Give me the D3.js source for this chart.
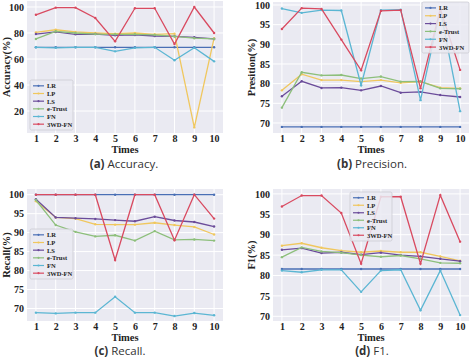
<!DOCTYPE html>
<html><head><meta charset="utf-8">
<script src="https://cdn.jsdelivr.net/npm/d3@7"></script>
<style>body{margin:0;background:#fff;}svg{display:block;}</style>
</head><body>
<script>
const times = [1,2,3,4,5,6,7,8,9,10];
const methods = ["LR","LP","LS","e-Trust","FN","3WD-FN"];
const colors = ["#4a6fb5","#f0c75e","#6b4c9a","#8dbf7b","#5bb6d3","#d94a60"];

const accLR     = [69,69,69,69,69,69,69,69,69,69];
const accLP     = [80.5,82.5,80.8,80,79.5,80,79,79.5,7.4,76];
const accLS     = [79.2,80.8,79,79.2,78.2,78.5,77.7,77.4,76.7,75.4];
const accTrust  = [75.4,81.3,80,79.2,79,79,78.5,77.4,76,75.4];
const accFN     = [69,68.6,69,69,65.9,68.6,69,59,68.6,58.2];
const acc3WD    = [94,99.5,99.5,91.5,73.6,99,99,71.5,100,80];

const preLR     = [69,69,69,69,69,69,69,69,69,69];
const preLP     = [78.3,82.4,80.9,80.9,80.5,80.9,80.2,80.5,79,78.8];
const preLS     = [76.8,80.6,78.9,79,78.3,79.4,77.7,77.9,77.1,76.6];
const preTrust  = [73.9,82.9,82.1,82.2,81.3,81.8,80.5,80.6,78.8,78.7];
const preFN     = [99.1,98,98.7,98.6,79.6,98.7,98.8,75.8,98.8,73];
const pre3WD    = [93.9,99.2,99,91.2,83.4,98.5,98.7,78.8,99,83.5];

const recLR     = [100,100,100,100,100,100,100,100,100,100];
const recLP     = [98.3,94,93.7,92.2,92.1,92.1,92.6,92,91.5,89.5];
const recLS     = [98.8,94,93.8,93.6,93.3,93,94.2,93.2,92.8,91.6];
const recTrust  = [98.6,92,90.2,89,89.3,87.9,90.4,88.1,88.2,87.9];
const recFN     = [68.9,68.7,68.9,68.9,73.1,68.9,68.9,68,68.8,68.2];
const rec3WD    = [100,100,100,100,82.8,100,100,88,100,93.7];

const f1LR      = [81.6,81.6,81.6,81.6,81.6,81.6,81.6,81.6,81.6,81.6];
const f1LP      = [87.3,87.9,86.8,86.1,85.7,86,85.7,85.7,84.7,83.6];
const f1LS      = [86.3,86.7,85.5,85.7,85.1,85.6,85,84.7,84.1,83.5];
const f1Trust   = [84.5,86.9,85.9,85.6,85,84.6,84.9,84.1,83.1,83];
const f1FN      = [81.2,80.8,81.4,81.4,76,81.2,81.4,71.5,81.2,70.3];
const f13WD     = [96.9,99.6,99.6,95.3,82.9,99.3,99.3,82.9,99.7,88.3];

const accTicks = [20,40,60,80,100];
const prTicks  = [70,75,80,85,90,95,100];

const panels = [
  {series:[accLR,accLP,accLS,accTrust,accFN,acc3WD], ylab:"Accuracy(%)", cap:["(a)"," Accuracy."],
   x0:27,x1:223,y0:1,y1:133, dom:[3.1,104.6], ticks:accTicks, ylx:6, capx:124, capy:167.5,
   leg:{x:30,y:80,w:43,h:50}},
  {series:[preLR,preLP,preLS,preTrust,preFN,pre3WD], ylab:"Presition(%)", cap:["(b)"," Precision."],
   x0:273,x1:469,y0:2,y1:133, dom:[67.45,100.76], ticks:prTicks, ylx:251, capx:372, capy:167.5,
   leg:{x:422,y:2,w:47,h:51}},
  {series:[recLR,recLP,recLS,recTrust,recFN,rec3WD], ylab:"Recall(%)", cap:["(c)"," Recall."],
   x0:27,x1:223,y0:189,y1:321, dom:[66.7,101.5], ticks:prTicks, ylx:6, capx:120, capy:355,
   leg:{x:30,y:229,w:43,h:50}},
  {series:[f1LR,f1LP,f1LS,f1Trust,f1FN,f13WD], ylab:"F1(%)", cap:["(d)"," F1."],
   x0:273,x1:469,y0:189,y1:321, dom:[68.85,101.2], ticks:prTicks, ylx:251, capx:372, capy:355,
   leg:{x:350,y:192,w:42,h:49}}
];

const svg = d3.select("body").append("svg").attr("width",474).attr("height",358);
const serif = "'Liberation Serif','DejaVu Serif',serif";

panels.forEach(p=>{
  const g = svg.append("g");
  const x = d3.scaleLinear().domain([0.55,10.45]).range([p.x0,p.x1]);
  const y = d3.scaleLinear().domain(p.dom).range([p.y1,p.y0]);
  g.append("rect").attr("x",p.x0).attr("y",p.y0).attr("width",p.x1-p.x0).attr("height",p.y1-p.y0).attr("fill","#eaeaf2");
  // grid
  g.selectAll(".gx").data(times).enter().append("line")
    .attr("x1",d=>x(d)).attr("x2",d=>x(d)).attr("y1",p.y0).attr("y2",p.y1)
    .attr("stroke","#fff").attr("stroke-width",1);
  g.selectAll(".gy").data(p.ticks).enter().append("line")
    .attr("x1",p.x0).attr("x2",p.x1).attr("y1",d=>y(d)).attr("y2",d=>y(d))
    .attr("stroke","#fff").attr("stroke-width",1);
  // axes
  const xa = g.append("g").attr("transform",`translate(0,${p.y1})`)
    .call(d3.axisBottom(x).tickValues(times).tickSize(0).tickPadding(2).tickFormat(d3.format("d")));
  const ya = g.append("g").attr("transform",`translate(${p.x0},0)`)
    .call(d3.axisLeft(y).tickValues(p.ticks).tickSize(0).tickPadding(3).tickFormat(d3.format("d")));
  [xa,ya].forEach(a=>{
    a.select(".domain").remove();
    a.selectAll("text").attr("font-family",serif).attr("font-weight","bold").attr("font-size",10).attr("fill","#222");
  });
  g.append("text").attr("x",(p.x0+p.x1)/2).attr("y",p.y1+19.5).attr("text-anchor","middle")
    .attr("font-family",serif).attr("font-weight","bold").attr("font-size",10.5).attr("fill","#222").text("Times");
  g.append("text").attr("transform",`translate(${p.ylx},${(p.y0+p.y1)/2}) rotate(-90)`)
    .attr("text-anchor","middle").attr("dominant-baseline","central")
    .attr("font-family",serif).attr("font-weight","bold").attr("font-size",10.5).attr("fill","#222").text(p.ylab);
  // lines
  const line = d3.line().x((d,i)=>x(times[i])).y(d=>y(d));
  p.series.forEach((s,k)=>{
    g.append("path").datum(s).attr("d",line).attr("fill","none")
      .attr("stroke",colors[k]).attr("stroke-width",1.3);
    g.selectAll(null).data(s).enter().append("circle")
      .attr("cx",(d,i)=>x(times[i])).attr("cy",d=>y(d)).attr("r",1.2).attr("fill",colors[k]);
  });
  // legend
  const L = p.leg;
  const lg = g.append("g");
  lg.append("rect").attr("x",L.x).attr("y",L.y).attr("width",L.w).attr("height",L.h).attr("rx",1.5)
    .attr("fill","#eaeaf2").attr("fill-opacity",0.85).attr("stroke","#c8c8d0").attr("stroke-width",0.7);
  const step = (L.h-4)/6;
  methods.forEach((m,k)=>{
    const yy = L.y+2+step*(k+0.5);
    lg.append("line").attr("x1",L.x+3).attr("x2",L.x+14).attr("y1",yy).attr("y2",yy)
      .attr("stroke",colors[k]).attr("stroke-width",1.2);
    lg.append("circle").attr("cx",L.x+8.5).attr("cy",yy).attr("r",1.1).attr("fill",colors[k]);
    lg.append("text").attr("x",L.x+17).attr("y",yy).attr("dominant-baseline","central")
      .attr("font-family",serif).attr("font-weight","bold").attr("font-size",6.5).attr("fill","#222").text(m);
  });
  // caption
  const c = g.append("text").attr("x",p.capx).attr("y",p.capy).attr("text-anchor","middle")
    .attr("font-family","'Open Sans','DejaVu Sans',sans-serif").attr("font-size",11.5).attr("fill","#333");
  c.append("tspan").attr("font-weight","bold").text(p.cap[0]);
  c.append("tspan").text(p.cap[1]);
});
</script>
</body></html>
